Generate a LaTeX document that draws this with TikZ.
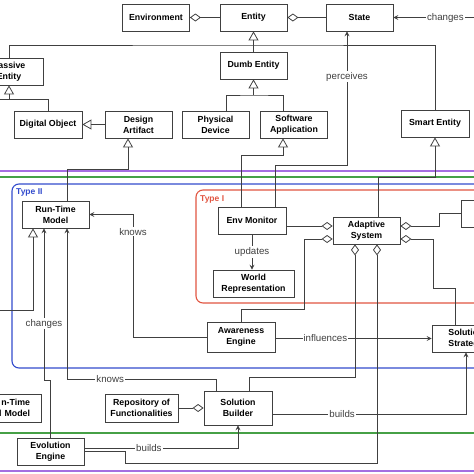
\documentclass[tikz,border=0pt]{standalone}
\usepackage{fontspec}
\setmainfont{Liberation Sans}
\usetikzlibrary{arrows.meta}
\definecolor{fpurple}{RGB}{165,110,225}
\definecolor{fgreen}{RGB}{70,160,70}
\definecolor{fblue}{RGB}{50,75,205}
\definecolor{fred}{RGB}{225,85,65}
\begin{document}
\begin{tikzpicture}[x=1pt,y=-1pt,
  box/.style={draw=black!75, fill=white, line width=0.8pt, inner sep=0pt, minimum width=67pt, minimum height=27pt, align=center, font=\fontsize{8.8}{11}\selectfont\bfseries},
  lbl/.style={fill=white, inner sep=1pt, font=\fontsize{9.7}{11}\selectfont, text=black!75},
  conn/.style={draw=black!75, line width=0.8pt},
  gen/.style={conn, -{Triangle[open, length=9pt, width=10pt]}},
  diam/.style={conn, -{Diamond[open, length=11pt, width=8pt]}},
  arr/.style={conn, -{Stealth[length=5pt, width=5pt, inset=2pt]}},
  frame/.style={line width=1.3pt},
  typelbl/.style={anchor=west, inner sep=0pt, font=\fontsize{8.5}{10}\selectfont\bfseries}
]
\useasboundingbox (0,0) rectangle (474,474);
\clip (0,0) rectangle (474,474);

% frames
\draw[frame, fpurple] (-20,171) rectangle (500,471);
\draw[frame, fgreen] (-20,177) rectangle (500,433);
\draw[frame, fblue, line width=1.1pt, rounded corners=7pt] (12,184) rectangle (500,368);
\draw[frame, fred, line width=1.1pt, rounded corners=7pt] (196,190) rectangle (500,303);
\node[typelbl, text=fblue] (t2) at (16,192.5) {Type II};
\node[typelbl, text=fred] (t1) at (200,199) {Type I};

% nodes
\node[box] (env) at (156,17.5) {Environment};
\node[box] (entity) at (253.5,17.5) {Entity};
\node[box] (state) at (359.5,17.5) {State};
\node[box, minimum width=68pt] (passive) at (9,71.5) {Passive\\Entity};
\node[box] (dumb) at (253.5,65.5) {Dumb Entity};
\node[box] (phys) at (215.5,124.5) {Physical\\Device};
\node[box] (soft) at (294,124.5) {Software\\Application};
\node[box, minimum width=68pt] (digital) at (48,124.5) {Digital Object};
\node[box] (design) at (138.5,124.5) {Design\\Artifact};
\node[box, minimum width=68pt] (smart) at (435,123.5) {Smart Entity};
\node[box] (runtime) at (55.5,214.5) {Run-Time\\Model};
\node[box, minimum width=68pt] (envmon) at (252,220.5) {Env Monitor};
\node[box] (adaptive) at (366.5,230.5) {Adaptive\\System};
\node[box] (rightbox) at (494.5,213.5) {};
\node[box, minimum width=81pt] (world) at (253.5,283.5) {World\\Representation};
\node[box, minimum width=68pt, minimum height=30pt] (aware) at (241,337) {Awareness\\Engine};
\node[box, minimum width=68pt] (solstrat) at (466,338.5) {Solution\\Strategy};
\node[box, minimum width=68pt, minimum height=34pt] (solbuild) at (238,408) {Solution\\Builder};
\node[box, minimum width=73pt, minimum height=28pt] (repo) at (141.5,408) {Repository of\\Functionalities};
\node[box] (evol) at (50.5,451.5) {Evolution\\Engine};
\node[box, minimum height=28pt, text width=45pt, align=right] (leftrt) at (7.5,408) {n-Time\\l Model};

% free ends
\coordinate (chgR) at (480,17.5);
\coordinate (ebus) at (253.5,45);
\coordinate (dbus) at (253.5,95);
\coordinate (pbus) at (9,99);
\coordinate (pleft) at (-10,99);
\coordinate (lft) at (-10,310);

% top part
\draw[arr] (chgR) -- node[lbl, pos=0.4] (lchg) {changes} (state.east);
\draw[diam] (entity.west) -- (env.east);
\draw[diam] (state.west) -- (entity.east);
\draw[conn] (passive.north) |- (ebus) -| (smart.north);
\draw[gen] (dumb.north) -- (entity.south);
\draw[conn] ([xshift=10.5pt]phys.north) |- (dbus) -| ([xshift=-11pt]soft.north);
\draw[gen] (dbus) -- (dumb.south);
\draw[conn] (pleft) -| (digital.north);
\draw[gen] (pbus) -- (passive.south);
\draw[gen] (design.west) -- (digital.east);
\draw[gen] ([xshift=11.5pt]runtime.north) |- (128,169) -- ([xshift=-10.5pt]design.south);
\draw[gen] ([xshift=-11pt]envmon.north) |- (283,155) -- ([xshift=-11pt]soft.south);
\draw[arr] ([xshift=23pt]envmon.north) |- (347,165) -- node[lbl, pos=0.66] (lperc) {perceives} ([xshift=-12.5pt]state.south);
\draw[gen] ([xshift=11.5pt]adaptive.north) |- (435,177) -- (smart.south);

% type I / II
\draw[arr] (envmon.south) -- node[lbl] (lupd) {updates} (envmon.south |- world.north);
\draw[diam] ([yshift=-5.5pt]envmon.east) -- ([yshift=4.5pt]adaptive.west);
\draw[diam] (aware.north) |- (304,309) |- ([yshift=-8.5pt]adaptive.west);
\draw[diam] (rightbox.west) -| (439,226) -- ([yshift=4.5pt]adaptive.east);
\draw[diam] ([xshift=-11pt]solstrat.north) |- (433,288) |- ([yshift=-8.5pt]adaptive.east);
\draw[diam] ([xshift=11pt]solbuild.north) |- (355,377) -- ([xshift=-11.5pt]adaptive.south);
\draw[diam] (evol.east) -| (125,463) -| ([xshift=10.5pt]adaptive.south);
\draw[arr] (aware.east |- solstrat.west) -- node[lbl, pos=0.32] (linf) {influences} (solstrat.west);
\draw[arr] (aware.west) -| node[lbl, pos=0.93] (lkn1) {knows} (133,214.5) -- (runtime.east);
\draw[gen] (lft) -| ([xshift=-22.5pt]runtime.south);

% bottom
\draw[arr] (evol.north) |- (44,380) -- node[lbl, pos=0.37] (lchg2) {changes} ([xshift=-11.5pt]runtime.south);
\draw[arr] ([xshift=-22pt]solbuild.north) |- node[lbl, pos=0.855] (lkn2) {knows} (67,379) -- ([xshift=11.5pt]runtime.south);
\draw[diam] (repo.east) -- (solbuild.west);
\draw[arr] ([yshift=3.5pt]evol.east) -| node[lbl, pos=0.21] (lb1) {builds} (solbuild.south);
\draw[arr] ([yshift=-6pt]solbuild.east) -| node[lbl, pos=0.18] (lb2) {builds} (solstrat.south);
\end{tikzpicture}
\end{document}
